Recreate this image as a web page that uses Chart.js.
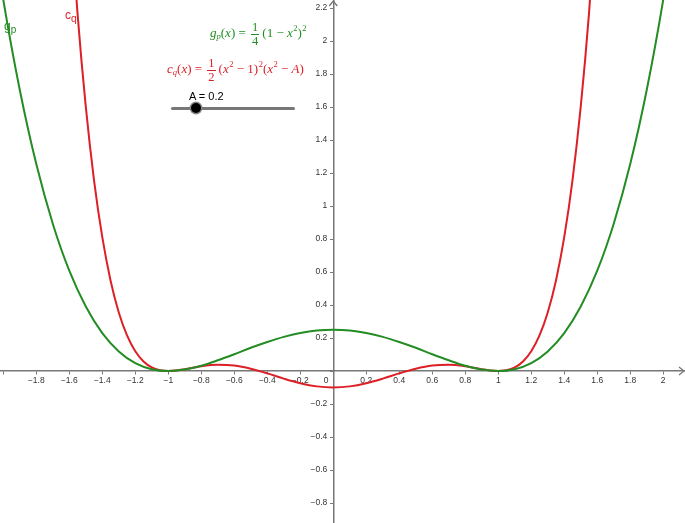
<!DOCTYPE html>
<html>
<head>
<meta charset="utf-8">
<script src="https://cdn.jsdelivr.net/npm/chart.js@4"></script>
<style>
  body { margin: 0; background: #fff; }
  #wrap { position: relative; width: 685px; height: 523px; overflow: hidden; }
  canvas { position: absolute; left: 0; top: 0; }
  .f { position: absolute; font-family: "Liberation Serif", serif; font-size: 13px; white-space: nowrap; line-height: 1; }
  .f sup { font-size: 8.5px; vertical-align: 6px; margin-left: 0.5px; }
  .f sub { font-size: 8.5px; vertical-align: -2px; font-style: italic; }
  .frac { display: inline-block; vertical-align: middle; text-align: center; font-size: 12.5px; margin: 0 3px 0 2px; }
  .frac span { display: block; padding: 0 1px; line-height: 13px; }
  .frac span:first-child { border-bottom: 1px solid currentColor; }
  .lbl { position: absolute; font-family: "Liberation Sans", Arial, sans-serif; font-size: 12px; line-height: 1; }
  .lbl sub { font-size: 10px; vertical-align: -3px; }
  #slider { position: absolute; left: 171px; top: 107px; width: 124px; height: 3px; background: #777; border-radius: 2px; }
  #knob { position: absolute; left: 191px; top: 103px; width: 10px; height: 10px; border-radius: 50%; background: #000; box-shadow: 0 0 0 1.5px #888; }
  #aval { position: absolute; left: 189px; top: 91px; font-family: "Liberation Sans", Arial, sans-serif; font-size: 11px; line-height: 1; color: #000; }
</style>
</head>
<body>
<div id="wrap">
  <canvas id="chart" width="685" height="523"></canvas>
  <div class="lbl" style="left:4px; top:20px; color:#238c23;">g<sub>p</sub></div>
  <div class="lbl" style="left:65px; top:9px; color:#dd1f26;">c<sub>q</sub></div>
  <div class="f" style="left:210px; top:21px; color:#238c23;"><i>g</i><sub>p</sub>(<i>x</i>) = <span class="frac"><span>1</span><span>4</span></span>(1 − <i>x</i><sup>2</sup>)<sup>2</sup></div>
  <div class="f" style="left:167px; top:57px; color:#dd1f26;"><i>c</i><sub>q</sub>(<i>x</i>) = <span class="frac"><span>1</span><span>2</span></span>(<i>x</i><sup>2</sup> − 1)<sup>2</sup>(<i>x</i><sup>2</sup> − <i>A</i>)</div>
  <div id="aval">A = 0.2</div>
  <div id="slider"></div>
  <div id="knob"></div>
</div>
<script>
// values
var gX = [-2.1, -2.0, -1.9, -1.8, -1.7, -1.6, -1.5, -1.4, -1.3, -1.2, -1.1, -1.0, -0.9, -0.8, -0.7, -0.6, -0.5, -0.4, -0.3, -0.2, -0.1, 0,
          0.1, 0.2, 0.3, 0.4, 0.5, 0.6, 0.7, 0.8, 0.9, 1.0, 1.1, 1.2, 1.3, 1.4, 1.5, 1.6, 1.7, 1.8, 1.9, 2.0, 2.1];
var gY = [2.907, 2.25, 1.703, 1.254, 0.893, 0.608, 0.391, 0.230, 0.119, 0.048, 0.011, 0, 0.009, 0.032, 0.065, 0.102, 0.141, 0.176, 0.207, 0.230, 0.245, 0.25,
          0.245, 0.230, 0.207, 0.176, 0.141, 0.102, 0.065, 0.032, 0.009, 0, 0.011, 0.048, 0.119, 0.230, 0.391, 0.608, 0.893, 1.254, 1.703, 2.25, 2.907];

var cX = [-1.6, -1.55, -1.5, -1.45, -1.4, -1.35, -1.3, -1.25, -1.2, -1.15, -1.1, -1.05, -1.0, -0.95, -0.9, -0.8, -0.7, -0.6, -0.5, -0.4, -0.3, -0.2, -0.1, 0,
          0.1, 0.2, 0.3, 0.4, 0.5, 0.6, 0.7, 0.8, 0.9, 0.95, 1.0, 1.05, 1.1, 1.15, 1.2, 1.25, 1.3, 1.35, 1.4, 1.45, 1.5, 1.55, 1.6];
var cY = [2.872, 2.166, 1.602, 1.156, 0.811, 0.549, 0.355, 0.216, 0.120, 0.058, 0.022, 0.005, 0, 0.003, 0.011, 0.029, 0.038, 0.033, 0.014, -0.014, -0.046, -0.074, -0.093, -0.1,
          -0.093, -0.074, -0.046, -0.014, 0.014, 0.033, 0.038, 0.029, 0.011, 0.003, 0, 0.005, 0.022, 0.058, 0.120, 0.216, 0.355, 0.549, 0.811, 1.156, 1.602, 2.166, 2.872];

var xTicks = [-2, -1.8, -1.6, -1.4, -1.2, -1, -0.8, -0.6, -0.4, -0.2, 0, 0.2, 0.4, 0.6, 0.8, 1, 1.2, 1.4, 1.6, 1.8, 2];
var yTicks = [-0.8, -0.6, -0.4, -0.2, 0, 0.2, 0.4, 0.6, 0.8, 1, 1.2, 1.4, 1.6, 1.8, 2, 2.2];

var green = '#238c23';
var red = '#dd1f26';
var axisGray = '#777';

function pts(xs, ys) {
  return xs.map(function (x, i) { return { x: x, y: ys[i] }; });
}

function fmt(v) {
  return String(Math.round(v * 10) / 10).replace('-', '\u2212');
}

// no label overhang padding, so the plot fills the whole canvas
function noPad(s) {
  s.paddingTop = 0; s.paddingBottom = 0; s.paddingLeft = 0; s.paddingRight = 0;
}

// arrow heads at the ends of both axes
var arrows = {
  id: 'arrows',
  afterDraw: function (chart) {
    var ctx = chart.ctx, xs = chart.scales.x, ys = chart.scales.y;
    var ox = xs.getPixelForValue(0), oy = ys.getPixelForValue(0);
    var r = chart.chartArea.right - 1, t = chart.chartArea.top + 1;
    ctx.save();
    ctx.strokeStyle = axisGray;
    ctx.lineWidth = 1.3;
    ctx.beginPath();
    ctx.moveTo(r - 5, oy - 4); ctx.lineTo(r, oy); ctx.lineTo(r - 5, oy + 4);
    ctx.moveTo(ox - 4, t + 5); ctx.lineTo(ox, t); ctx.lineTo(ox + 4, t + 5);
    ctx.stroke();
    ctx.restore();
  }
};

new Chart(document.getElementById('chart'), {
  type: 'scatter',
  data: {
    datasets: [
      { label: 'gp', data: pts(gX, gY), borderColor: green, borderWidth: 2, showLine: true, pointRadius: 0, cubicInterpolationMode: 'monotone' },
      { label: 'cq', data: pts(cX, cY), borderColor: red, borderWidth: 2, showLine: true, pointRadius: 0, cubicInterpolationMode: 'monotone' }
    ]
  },
  options: {
    responsive: false,
    animation: false,
    layout: { padding: 0 },
    plugins: { legend: { display: false }, tooltip: { enabled: false } },
    scales: {
      x: {
        type: 'linear',
        min: -2.02, max: 2.132,
        position: { y: 0 },
        afterBuildTicks: function (s) { s.ticks = xTicks.map(function (v) { return { value: v }; }); },
        afterFit: noPad,
        ticks: {
          autoSkip: false, maxRotation: 0, padding: 2, color: '#333',
          font: { family: 'Liberation Sans', size: 8.5 },
          callback: function (v) {
            if (v === -2) return '';
            if (v === 0) return '0\u2003\u2002\u2009'; // origin label sits left of the y axis
            return fmt(v);
          }
        },
        grid: { drawOnChartArea: false, drawTicks: true, tickLength: 3, color: axisGray },
        border: { color: axisGray, width: 1.5 }
      },
      y: {
        type: 'linear',
        min: -0.921, max: 2.2485,
        position: { x: 0 },
        afterBuildTicks: function (s) { s.ticks = yTicks.map(function (v) { return { value: v }; }); },
        afterFit: noPad,
        ticks: {
          autoSkip: false, padding: 2, color: '#333',
          font: { family: 'Liberation Sans', size: 8.5 },
          callback: function (v) { return v === 0 ? '' : fmt(v) + '\u2002\u2009'; }
        },
        grid: { drawOnChartArea: false, drawTicks: true, tickLength: 3, color: axisGray },
        border: { color: axisGray, width: 1.5 }
      }
    }
  },
  plugins: [arrows]
});
</script>
</body>
</html>
